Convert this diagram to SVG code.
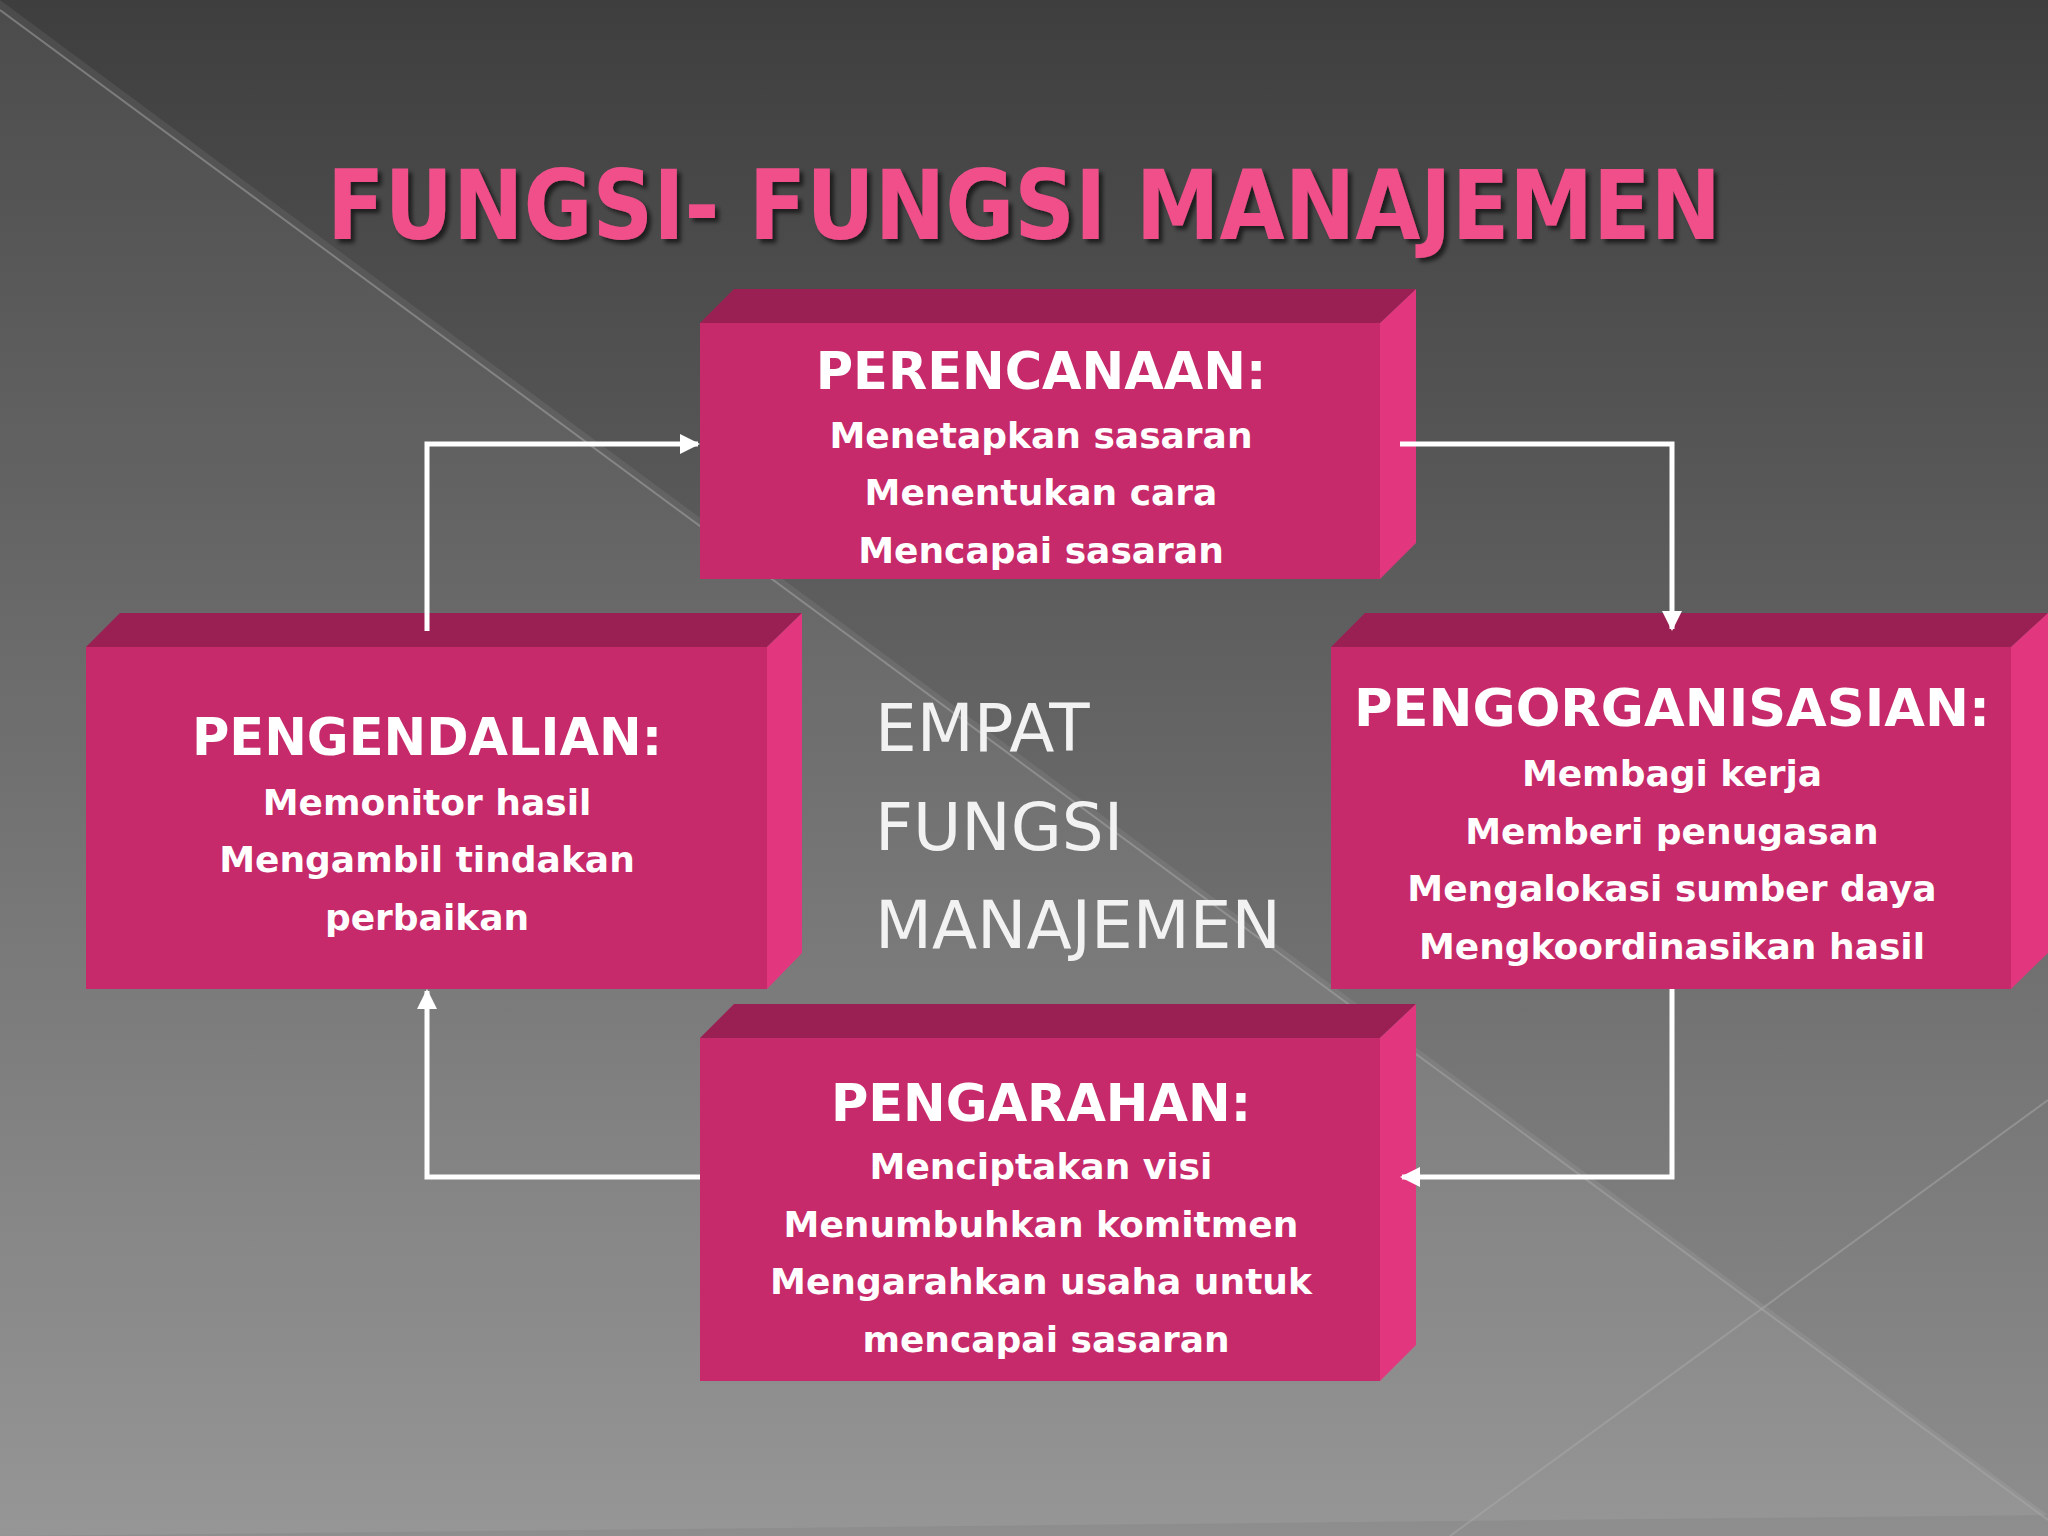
<svg xmlns="http://www.w3.org/2000/svg" width="2048" height="1536" viewBox="0 0 2048 1536">
<defs>
<linearGradient id="bg" x1="0" y1="0" x2="0" y2="1"><stop offset="0" stop-color="#3e3e3e"/><stop offset="1" stop-color="#8e8e8e"/></linearGradient>
<marker id="ah" viewBox="0 0 10 10" refX="9" refY="5" markerWidth="4" markerHeight="4" orient="auto"><path d="M0,0L10,5L0,10z" fill="#fff"/></marker>
<filter id="sh"><feDropShadow dx="4" dy="4" stdDeviation="2" flood-color="#000" flood-opacity="0.6"/></filter>
</defs>
<style>
.front{fill:#c62a6a}.top{fill:#9a1f52}.side{fill:#e2367f}
.h{font-family:"DejaVu Sans",sans-serif;font-weight:bold;font-size:51px;fill:#fff;text-anchor:middle}
.i{font-family:"DejaVu Sans",sans-serif;font-weight:bold;font-size:36px;fill:#fff;text-anchor:middle}
.c{stroke:#fff;stroke-width:5;fill:none;marker-end:url(#ah)}
.e{font-family:"DejaVu Sans",sans-serif;font-size:66px;fill:#f2f2f2}
</style>
<rect width="2048" height="1536" fill="url(#bg)"/>
<polygon points="0,0 2048,1515 0,1536" fill="#fff" opacity="0.07"/>
<line x1="0" y1="10" x2="2048" y2="1520" stroke="#aaa" stroke-width="2" opacity="0.5"/>
<line x1="1450" y1="1536" x2="2048" y2="1100" stroke="#aaa" stroke-width="2" opacity="0.5"/>
<text x="1024" y="239" font-family="DejaVu Sans,sans-serif" font-weight="bold" font-size="96" fill="#f0508a" text-anchor="middle" filter="url(#sh)" textLength="1394" lengthAdjust="spacingAndGlyphs">FUNGSI- FUNGSI MANAJEMEN</text>
<g id="perencanaan">
<polygon class="top" points="700,323 734,289 1416,289 1380,323"/>
<polygon class="side" points="1380,323 1416,289 1416,543 1380,579"/>
<rect class="front" x="700" y="323" width="680" height="256"/>
<text class="h" x="1041" y="389">PERENCANAAN:</text>
<text class="i" x="1041" y="448">Menetapkan sasaran</text>
<text class="i" x="1041" y="505">Menentukan cara</text>
<text class="i" x="1041" y="563">Mencapai sasaran</text>
</g>
<g id="pengendalian">
<polygon class="top" points="86,647 120,613 802,613 767,647"/>
<polygon class="side" points="767,647 802,613 802,953 767,989"/>
<rect class="front" x="86" y="647" width="681" height="342"/>
<text class="h" x="427" y="755">PENGENDALIAN:</text>
<text class="i" x="427" y="815">Memonitor hasil</text>
<text class="i" x="427" y="872">Mengambil tindakan</text>
<text class="i" x="427" y="930">perbaikan</text>
</g>
<g id="pengorganisasian">
<polygon class="top" points="1331,647 1365,613 2048,613 2011,647"/>
<polygon class="side" points="2011,647 2048,613 2048,953 2011,989"/>
<rect class="front" x="1331" y="647" width="680" height="342"/>
<text class="h" x="1672" y="726" textLength="636" lengthAdjust="spacingAndGlyphs">PENGORGANISASIAN:</text>
<text class="i" x="1672" y="786">Membagi kerja</text>
<text class="i" x="1672" y="844">Memberi penugasan</text>
<text class="i" x="1672" y="901">Mengalokasi sumber daya</text>
<text class="i" x="1672" y="959">Mengkoordinasikan hasil</text>
</g>
<g id="pengarahan">
<polygon class="top" points="700,1038 734,1004 1416,1004 1380,1038"/>
<polygon class="side" points="1380,1038 1416,1004 1416,1345 1380,1381"/>
<rect class="front" x="700" y="1038" width="680" height="343"/>
<text class="h" x="1041" y="1121">PENGARAHAN:</text>
<text class="i" x="1041" y="1179">Menciptakan visi</text>
<text class="i" x="1041" y="1237">Menumbuhkan komitmen</text>
<text class="i" x="1041" y="1294">Mengarahkan usaha untuk</text>
<text class="i" x="1046" y="1352">mencapai sasaran</text>
</g>
<g id="connectors">
<path class="c" d="M427,631V444H698"/>
<path class="c" d="M1400,444H1672V629"/>
<path class="c" d="M1672,989V1177H1402"/>
<path class="c" d="M700,1177H427V991"/>
</g>
<g id="center">
<text class="e" x="875" y="751">EMPAT</text>
<text class="e" x="875" y="850">FUNGSI</text>
<text class="e" x="875" y="948">MANAJEMEN</text>
</g>
</svg>
